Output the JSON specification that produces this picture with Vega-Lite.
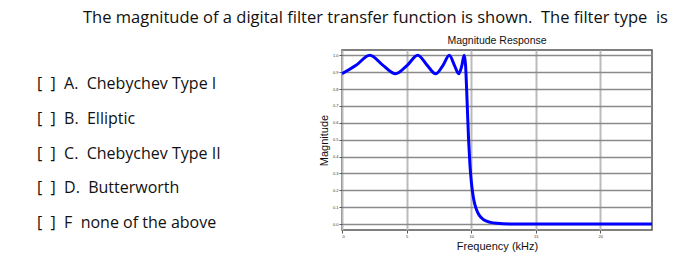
{
  "$schema": "https://vega.github.io/schema/vega-lite/v6.json",
  "padding": {"left": 5, "top": 10, "right": 5, "bottom": 5},
  "background": "white",
  "title": {
    "text": "The magnitude of a digital filter transfer function is shown. \u00a0The filter type \u00a0is",
    "anchor": "start",
    "frame": "bounds",
    "dx": 78,
    "font": "Open Sans",
    "fontSize": 16.5,
    "fontWeight": "normal",
    "color": "#111",
    "offset": 8
  },
  "config": {"view": {"stroke": null}},
  "spacing": 96,
  "hconcat": [
    {
      "width": 64,
      "height": 180,
      "data": {"values": [
        {"rank": 1, "label": "[\u00a0\u00a0] \u00a0A. \u00a0Chebychev Type I"},
        {"rank": 2, "label": "[\u00a0\u00a0] \u00a0B. \u00a0Elliptic"},
        {"rank": 3, "label": "[\u00a0\u00a0] \u00a0C. \u00a0Chebychev Type II"},
        {"rank": 4, "label": "[\u00a0\u00a0] \u00a0D. \u00a0Butterworth"},
        {"rank": 5, "label": "[\u00a0\u00a0] \u00a0F \u00a0none of the above"}
      ]},
      "mark": {"type": "text", "align": "left", "baseline": "middle", "font": "Open Sans", "fontSize": 16, "color": "#111"},
      "encoding": {
        "y": {"field": "rank", "type": "quantitative", "scale": {"domain": [0.015, 5.195], "reverse": true, "zero": false, "nice": false}, "axis": null},
        "text": {"field": "label"}
      }
    },
    {
      "width": 310,
      "height": 180,
      "view": {"stroke": "#555", "strokeWidth": 1.5},
      "title": {"text": "Magnitude Response", "font": "Liberation Sans", "fontSize": 10.5, "fontWeight": "normal", "color": "#111", "offset": 4},
      "data": {"values": [
        {"f": 0, "m": 0.89},
        {"f": 1.086, "m": 0.94},
        {"f": 2.151, "m": 1.0},
        {"f": 3.175, "m": 0.94},
        {"f": 4.145, "m": 0.89},
        {"f": 5.042, "m": 0.94},
        {"f": 5.864, "m": 1.0},
        {"f": 6.6, "m": 0.94},
        {"f": 7.245, "m": 0.89},
        {"f": 7.82, "m": 0.94},
        {"f": 8.304, "m": 1.0},
        {"f": 8.706, "m": 0.94},
        {"f": 9.035, "m": 0.89},
        {"f": 9.283, "m": 0.94},
        {"f": 9.461, "m": 1.0},
        {"f": 9.567, "m": 0.94},
        {"f": 9.6, "m": 0.89},
        {"f": 9.65, "m": 0.798},
        {"f": 9.7, "m": 0.694},
        {"f": 9.8, "m": 0.502},
        {"f": 9.9, "m": 0.359},
        {"f": 10.0, "m": 0.26},
        {"f": 10.1, "m": 0.193},
        {"f": 10.2, "m": 0.146},
        {"f": 10.3, "m": 0.112},
        {"f": 10.5, "m": 0.069},
        {"f": 10.75, "m": 0.04},
        {"f": 11, "m": 0.0246},
        {"f": 11.5, "m": 0.0102},
        {"f": 12, "m": 0.0046},
        {"f": 13, "m": 0.0011},
        {"f": 15, "m": 0.0002},
        {"f": 18, "m": 0.0},
        {"f": 24, "m": 0.0}
      ]},
      "mark": {"type": "line", "color": "#0000ff", "strokeWidth": 3, "interpolate": "monotone", "clip": true},
      "encoding": {
        "x": {
          "field": "f", "type": "quantitative",
          "scale": {"domain": [0, 24], "nice": false, "zero": false},
          "axis": {
            "values": [0, 5, 10, 15, 20],
            "title": "Frequency (kHz)",
            "titleFont": "Liberation Sans", "titleFontSize": 11, "titleFontWeight": "normal", "titleColor": "#111", "titlePadding": 2,
            "labelFont": "Liberation Sans", "labelFontSize": 4, "labelColor": "#333", "labelPadding": 1,
            "domain": false, "tickSize": 3, "tickColor": "#555",
            "grid": true, "gridColor": "#bbbbbb", "gridWidth": 2
          }
        },
        "y": {
          "field": "m", "type": "quantitative",
          "scale": {"domain": [-0.035, 1.031], "nice": false, "zero": false},
          "axis": {
            "values": [0, 0.1, 0.2, 0.3, 0.4, 0.5, 0.6, 0.7, 0.8, 0.9, 1],
            "title": "Magnitude",
            "titleFont": "Liberation Sans", "titleFontSize": 11, "titleFontWeight": "normal", "titleColor": "#111", "titlePadding": 3,
            "labelFont": "Liberation Sans", "labelFontSize": 4, "labelColor": "#333", "labelPadding": 1,
            "domain": false, "tickSize": 3, "tickColor": "#555",
            "grid": true, "gridColor": "#8a8a8a", "gridWidth": 1.5
          }
        }
      }
    }
  ]
}
